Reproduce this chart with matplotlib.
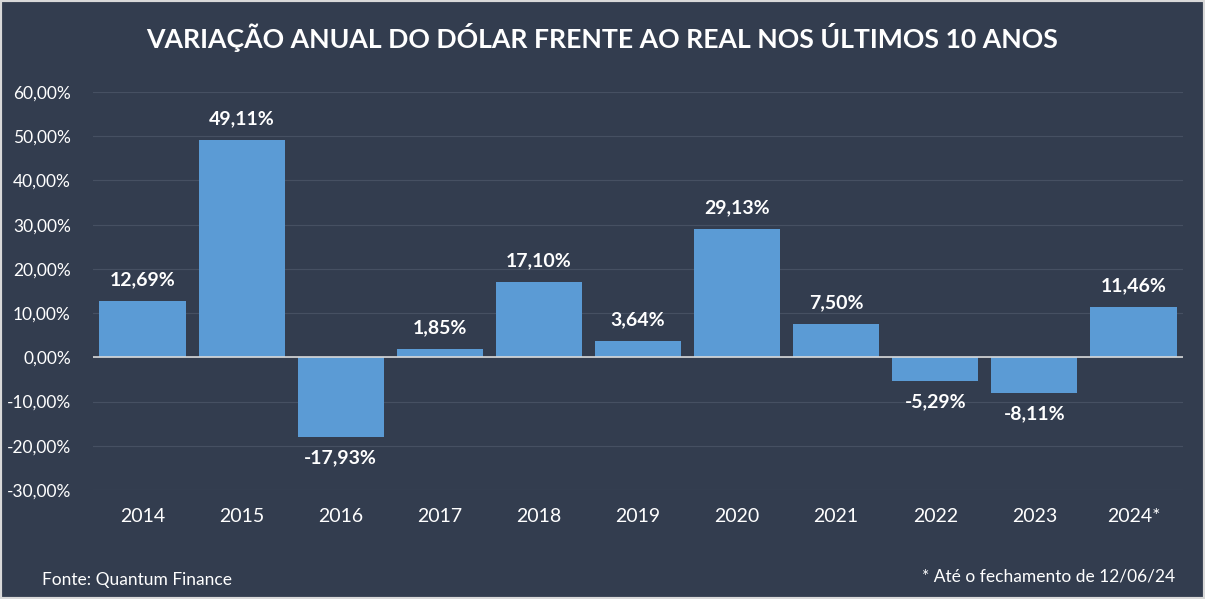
import numpy as np
import matplotlib
matplotlib.use("Agg")
import matplotlib.pyplot as plt
from matplotlib.patches import Rectangle

# data
anos = ["2014", "2015", "2016", "2017", "2018", "2019", "2020", "2021", "2022", "2023", "2024*"]
variacao = [12.69, 49.11, -17.93, 1.85, 17.10, 3.64, 29.13, 7.50, -5.29, -8.11, 11.46]
yticks = [-30, -20, -10, 0, 10, 20, 30, 40, 50, 60]

bg = "#333d4f"
bar_color = "#5b9bd5"
txt = "white"

plt.rcParams["font.family"] = ["Lato", "DejaVu Sans"]

fig = plt.figure(figsize=(12.05, 5.99), dpi=100, facecolor=bg)
ax = fig.add_axes([93/1205, 1 - 490/599, (1183 - 93)/1205, (490 - 92)/599])
ax.set_facecolor(bg)

x = np.arange(len(anos))
ax.bar(x, variacao, width=0.87, color=bar_color, zorder=3)

ax.set_xlim(-0.5, len(anos) - 0.5)
ax.set_ylim(-30, 60)
ax.set_yticks(yticks)
ax.set_yticklabels([f"{v:.2f}%".replace(".", ",") for v in yticks], fontsize=12.5, color=txt)
ax.set_xticks(x)
ax.set_xticklabels(anos, fontsize=14, color=txt)
ax.tick_params(length=0)
ax.tick_params(axis="x", pad=13)
ax.tick_params(axis="y", pad=16)

for s in ax.spines.values():
    s.set_visible(False)
ax.grid(axis="y", color="#465062", linewidth=0.8, zorder=0)
ax.axhline(0, color="#d9d9d9", linewidth=1.2, zorder=4)

# data labels
for xi, v in zip(x, variacao):
    lbl = f"{v:.2f}%".replace(".", ",")
    if v >= 0:
        ax.annotate(lbl, (xi, v), xytext=(0, 9), textcoords="offset points",
                    ha="center", va="bottom", fontsize=14, fontweight="bold", color=txt)
    else:
        ax.annotate(lbl, (xi, v), xytext=(0, -9), textcoords="offset points",
                    ha="center", va="top", fontsize=14, fontweight="bold", color=txt)

fig.text(0.5, 1 - 37/599, "VARIAÇÃO ANUAL DO DÓLAR FRENTE AO REAL NOS ÚLTIMOS 10 ANOS",
         ha="center", va="center", fontsize=19.2, fontweight="bold", color=txt)
fig.text(42/1205, 1 - 580/599, "Fonte: Quantum Finance", ha="left", va="center",
         fontsize=12.5, color=txt)
fig.text(1175/1205, 1 - 577/599, "* Até o fechamento de 12/06/24", ha="right", va="center",
         fontsize=12.5, color=txt)

# light border around the figure
fig.patches.append(Rectangle((0, 0), 1, 1, transform=fig.transFigure, fill=False,
                             edgecolor="#d9d9d9", linewidth=3, zorder=10))

fig.savefig("out.png", dpi=100, facecolor=bg)
